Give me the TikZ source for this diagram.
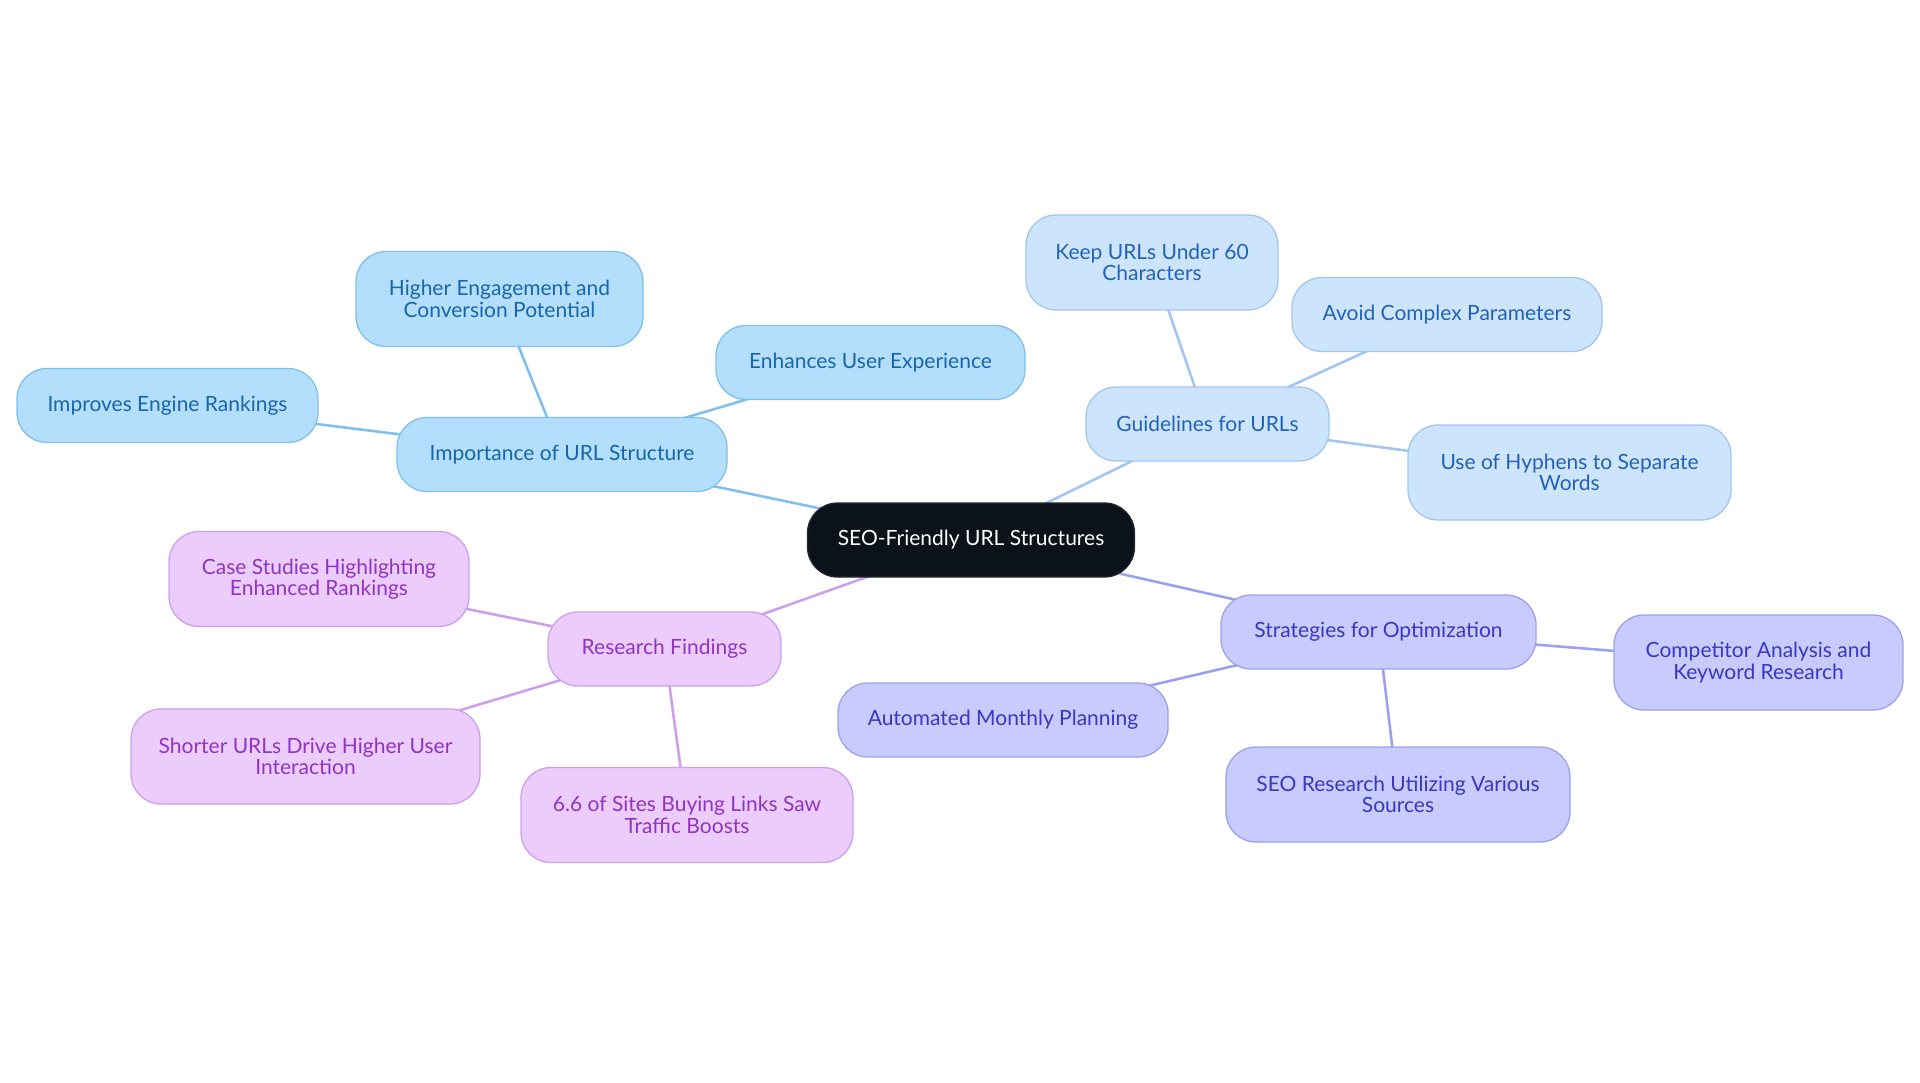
\documentclass[tikz,border=0pt]{standalone}
\usepackage{fontspec}
\setmainfont{Lato}
\usetikzlibrary{backgrounds}
\definecolor{cfill}{HTML}{0C121A}
\definecolor{bfill}{HTML}{B3DFFC}\definecolor{bdraw}{HTML}{80C0EA}\definecolor{btext}{HTML}{1766AA}
\definecolor{gfill}{HTML}{CCE4FC}\definecolor{gdraw}{HTML}{A3C6EF}\definecolor{gtext}{HTML}{2362B6}
\definecolor{sfill}{HTML}{C8CBFD}\definecolor{sdraw}{HTML}{9DA0EC}\definecolor{stext}{HTML}{3A37C0}
\definecolor{rfill}{HTML}{EBCCFD}\definecolor{rdraw}{HTML}{CDA0EA}\definecolor{rtext}{HTML}{9034C2}
\tikzset{
  box/.style={rounded corners=30pt, inner sep=0pt, align=center, line width=1.3pt,
    font=\fontsize{21}{21.5}\selectfont, minimum height=74pt},
  centre/.style={box, fill=cfill, draw=cfill!80!gray, text=white},
  bbox/.style={box, fill=bfill, draw=bdraw, text=btext},
  gbox/.style={box, fill=gfill, draw=gdraw, text=gtext},
  sbox/.style={box, fill=sfill, draw=sdraw, text=stext},
  rbox/.style={box, fill=rfill, draw=rdraw, text=rtext},
  two/.style={minimum height=95pt},
  edge/.style={line width=2.6pt},
}
\begin{document}
\begin{tikzpicture}[x=1pt,y=-1pt]
\useasboundingbox (0,0) rectangle (1920,1083);
% central
\node[centre, minimum width=327] (c) at (971,540) {SEO-Friendly URL Structures};
% level 1
\node[bbox, minimum width=330] (imp) at (562,454.5) {Importance of URL Structure};
\node[gbox, minimum width=243] (gui) at (1207.5,424) {Guidelines for URLs};
\node[sbox, minimum width=315] (str) at (1378.5,632) {Strategies for Optimization};
\node[rbox, minimum width=233] (res) at (664.5,649) {Research Findings};
% importance children
\node[bbox, two, minimum width=287] (hec) at (499.5,299) {Higher Engagement and\\Conversion Potential};
\node[bbox, minimum width=309] (eux) at (870.5,362.5) {Enhances User Experience};
\node[bbox, minimum width=301] (ier) at (167.5,405.5) {Improves Engine Rankings};
% guidelines children
\node[gbox, two, minimum width=252] (kuu) at (1152,262.5) {Keep URLs Under 60\\Characters};
\node[gbox, minimum width=310] (acp) at (1447,314.5) {Avoid Complex Parameters};
\node[gbox, two, minimum width=323] (uoh) at (1569.5,472.5) {Use of Hyphens to Separate\\Words};
% strategies children
\node[sbox, two, minimum width=289] (cak) at (1758.5,662.5) {Competitor Analysis and\\Keyword Research};
\node[sbox, minimum width=330] (amp) at (1003,720) {Automated Monthly Planning};
\node[sbox, two, minimum width=344] (sru) at (1398,794.5) {SEO Research Utilizing Various\\Sources};
% research children
\node[rbox, two, minimum width=300] (csh) at (319,579) {Case Studies Highlighting\\Enhanced Rankings};
\node[rbox, two, minimum width=349] (sud) at (305.5,756.5) {Shorter URLs Drive Higher User\\Interaction};
\node[rbox, two, minimum width=332] (sbl) at (687,815) {6.6 of Sites Buying Links Saw\\Traffic Boosts};
\begin{scope}[on background layer]
\draw[edge, bdraw] (c.center) -- (imp.center);
\draw[edge, bdraw] (imp.center) -- (hec.center);
\draw[edge, bdraw] (imp.center) -- (eux.center);
\draw[edge, bdraw] (imp.center) -- (ier.center);
\draw[edge, gdraw] (c.center) -- (gui.center);
\draw[edge, gdraw] (gui.center) -- (kuu.center);
\draw[edge, gdraw] (gui.center) -- (acp.center);
\draw[edge, gdraw] (gui.center) -- (uoh.center);
\draw[edge, sdraw] (c.center) -- (str.center);
\draw[edge, sdraw] (str.center) -- (cak.center);
\draw[edge, sdraw] (str.center) -- (amp.center);
\draw[edge, sdraw] (str.center) -- (sru.center);
\draw[edge, rdraw] (c.center) -- (res.center);
\draw[edge, rdraw] (res.center) -- (csh.center);
\draw[edge, rdraw] (res.center) -- (sud.center);
\draw[edge, rdraw] (res.center) -- (sbl.center);
\end{scope}
\end{tikzpicture}
\end{document}
